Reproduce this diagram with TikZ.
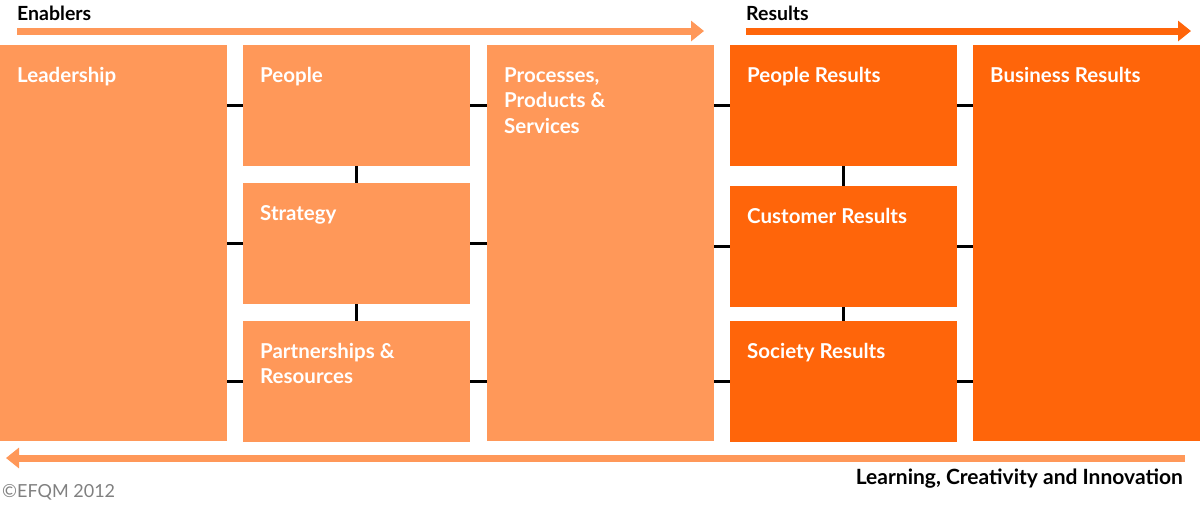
\documentclass[tikz,border=0pt]{standalone}
\usepackage{fontspec}
\setmainfont{Lato}
\usetikzlibrary{arrows.meta}
\definecolor{en}{HTML}{FF9859}
\definecolor{re}{HTML}{FF650A}
\begin{document}
\begin{tikzpicture}[x=1pt,y=-1pt,
 box/.style={fill=#1,draw=none,anchor=north west,inner sep=0,minimum width=227pt},
 lab/.style={anchor=north west,text=white,font=\fontsize{20.5}{25.5}\selectfont\bfseries,align=left,inner sep=0},
 con/.style={draw=black,line width=2.5pt},
 arr/.style={line width=7pt,-{Triangle[length=13pt,width=20pt]}}]
\useasboundingbox (0,0) rectangle (1200,507);
\node[box=en,minimum height=396pt] (lead) at (0,45) {};
\node[box=en,minimum height=121pt] (peo) at (243,45) {};
\node[box=en,minimum height=121pt] (str) at (243,183) {};
\node[box=en,minimum height=121pt] (par) at (243,321) {};
\node[box=en,minimum height=396pt] (proc) at (487,45) {};
\node[box=re,minimum height=121pt] (pr) at (730,45) {};
\node[box=re,minimum height=121pt] (cr) at (730,186) {};
\node[box=re,minimum height=121pt] (sr) at (730,321) {};
\node[box=re,minimum height=396pt,minimum width=228pt] (br) at (973,45) {};
\foreach \b/\t in {lead/Leadership,peo/People,str/Strategy,par/{Partnerships \&\\Resources},proc/{Processes,\\Products \&\\Services},pr/People Results,cr/Customer Results,sr/Society Results,br/Business Results}
  \node[lab] at ([xshift=17pt,yshift=-22pt]\b.north west) {\t};
\foreach \b in {peo,str,par} {
  \draw[con] (lead.east |- \b.east) -- (\b.west);
  \draw[con] (\b.east) -- (proc.west |- \b.east);
}
\draw[con] (proc.east |- peo.east) -- (pr.west);
\draw[con] (proc.east |- cr.west) -- (cr.west);
\draw[con] (proc.east |- par.east) -- (sr.west);
\draw[con] (pr.east) -- (br.west |- pr.east);
\draw[con] (cr.east) -- (br.west |- cr.east);
\draw[con] (sr.east) -- (br.west |- sr.east);
\draw[con] (peo.south) -- (str.north);
\draw[con] (str.south) -- (par.north);
\draw[con] (pr.south) -- (cr.north);
\draw[con] (cr.south) -- (sr.north);
\coordinate (e1) at (17,31); \coordinate (e2) at (704,31);
\coordinate (r1) at (746,31); \coordinate (r2) at (1191,31);
\coordinate (l1) at (1185,458); \coordinate (l2) at (6,458);
\draw[arr,draw=en,fill=en] (e1) -- (e2);
\draw[arr,draw=re,fill=re] (r1) -- (r2);
\draw[arr,draw=en,fill=en] (l1) -- (l2);
\node[anchor=south west,inner sep=0,font=\fontsize{19.5}{21}\selectfont\bfseries] (en) at (17,21) {Enablers};
\node[anchor=south west,inner sep=0,font=\fontsize{19.5}{21}\selectfont\bfseries] (rs) at (746,21) {Results};
\node[anchor=north east,inner sep=0,font=\fontsize{21}{23}\selectfont\bfseries] (lci) at (1183,469) {Learning, Creativity and Innovation};
\node[anchor=north west,inner sep=0,text=gray,font=\fontsize{18}{20}\selectfont] (cp) at (2,484) {©EFQM 2012};
\end{tikzpicture}
\end{document}
